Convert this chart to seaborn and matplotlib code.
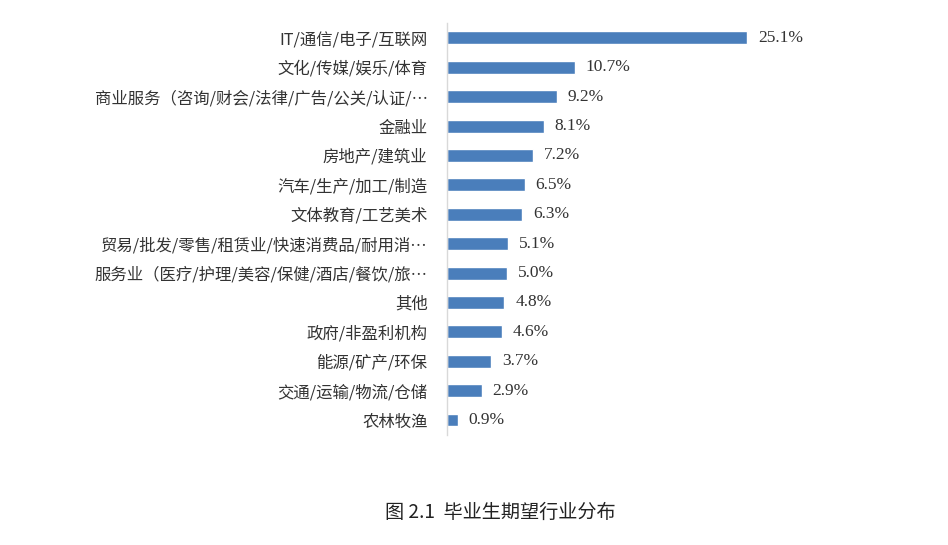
import matplotlib
matplotlib.use("Agg")
import matplotlib.pyplot as plt
import seaborn as sns
import pandas as pd

industries = [
    "IT/通信/电子/互联网",
    "文化/传媒/娱乐/体育",
    "商业服务（咨询/财会/法律/广告/公关/认证/…",
    "金融业",
    "房地产/建筑业",
    "汽车/生产/加工/制造",
    "文体教育/工艺美术",
    "贸易/批发/零售/租赁业/快速消费品/耐用消…",
    "服务业（医疗/护理/美容/保健/酒店/餐饮/旅…",
    "其他",
    "政府/非盈利机构",
    "能源/矿产/环保",
    "交通/运输/物流/仓储",
    "农林牧渔",
]
shares = [25.1, 10.7, 9.2, 8.1, 7.2, 6.5, 6.3, 5.1, 5.0, 4.8, 4.6, 3.7, 2.9, 0.9]
caption = "图 2.1  毕业生期望行业分布"

df = pd.DataFrame({"industry": industries, "share": shares})

sns.set_style("white")
plt.rcParams["font.family"] = ["Noto Sans CJK SC", "DejaVu Sans"]

fig = plt.figure(figsize=(9.48, 5.45), dpi=100)
ax = fig.add_axes([0.4715, 0.2024, 0.404, 0.755])

sns.barplot(data=df, y="industry", x="share", orient="h", color="#4a7ebb",
            saturation=1, width=0.44, ax=ax)

# value labels in a serif face like the original
for i, v in enumerate(shares):
    ax.text(v + 0.9, i, f"{v}%", va="center", ha="left", fontsize=12.5,
            color="#333333", family=["Liberation Serif", "DejaVu Serif"])

ax.set_xlim(0, 32)
ax.set_ylim(13.5, -0.5)
ax.set_xlabel("")
ax.set_ylabel("")
ax.set_xticks([])
ax.tick_params(axis="y", length=0, pad=14, labelsize=11.8, labelcolor="#333333")
for s in ["top", "right", "bottom"]:
    ax.spines[s].set_visible(False)
ax.spines["left"].set_color("#d9d9d9")
ax.spines["left"].set_linewidth(1)

fig.text(0.528, 0.06, caption, ha="center", va="center", fontsize=13.8, color="#222222")

fig.savefig("out.png", dpi=100, facecolor="white")
